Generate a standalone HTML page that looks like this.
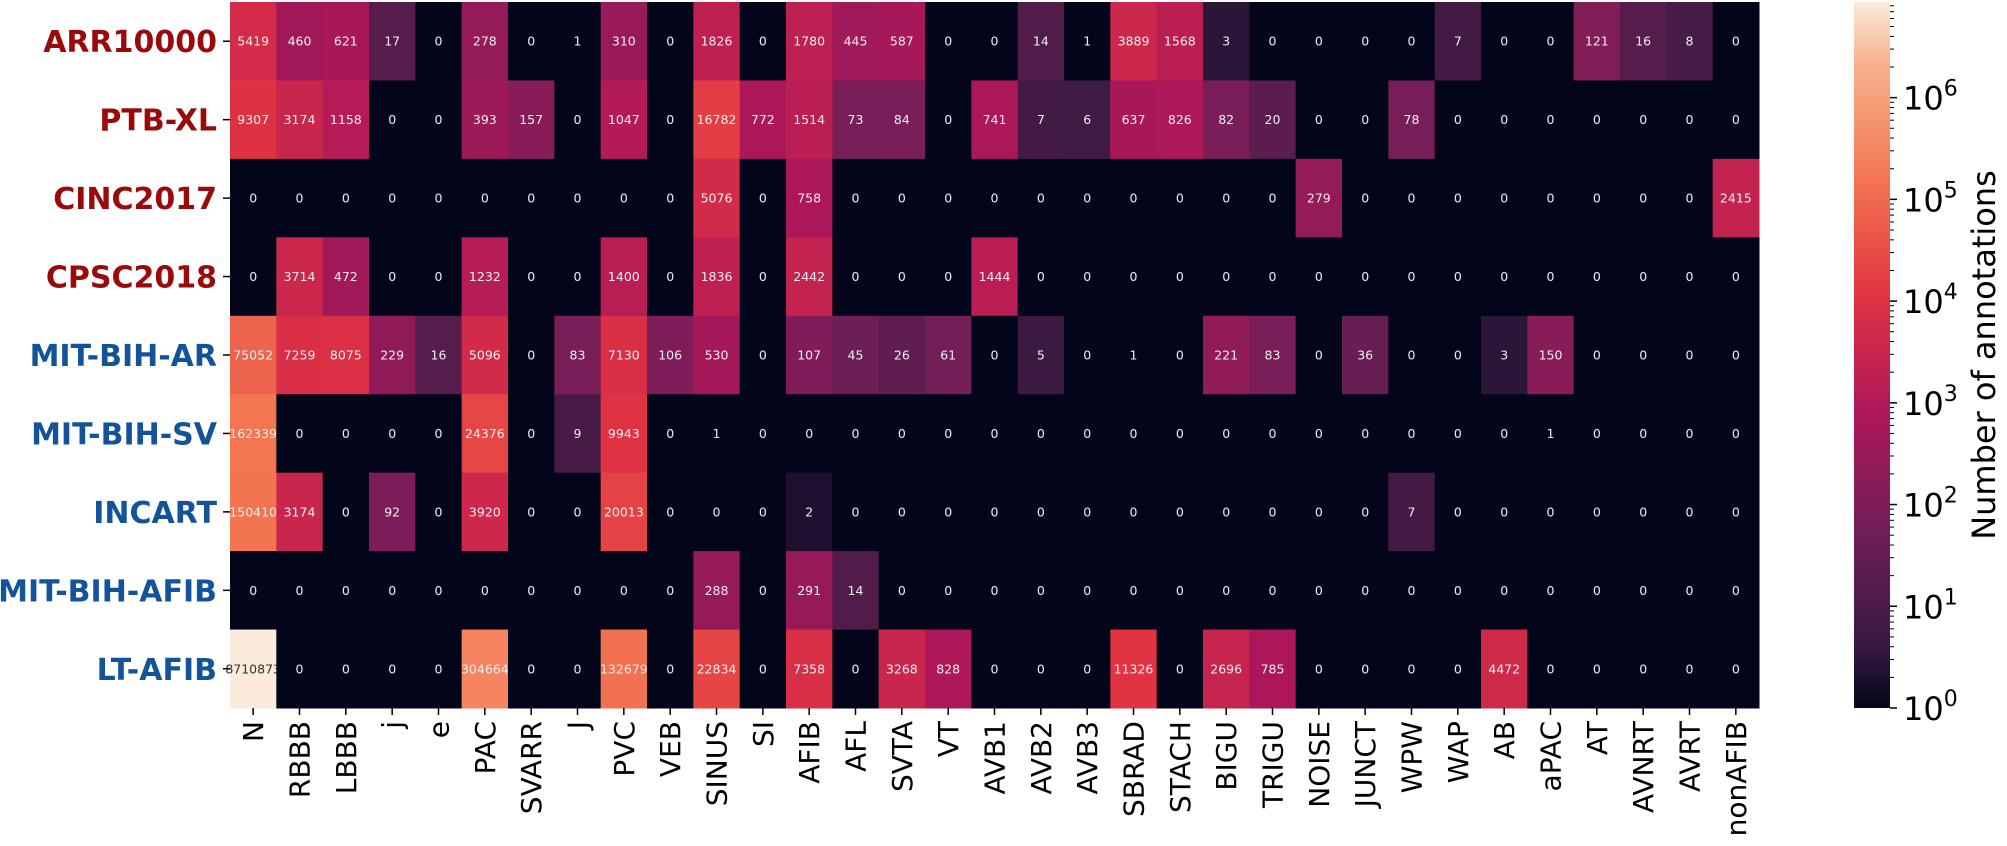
<!DOCTYPE html>
<html><head><meta charset="utf-8">
<style>
html,body{margin:0;padding:0;background:#fff;}
svg{display:block;font-family:"DejaVu Sans","Liberation Sans",sans-serif;}
</style></head>
<body>
<svg id="chart" width="2007" height="846" viewBox="0 0 2007 846" xmlns="http://www.w3.org/2000/svg">
<defs>
<linearGradient id="rocket" x1="0" y1="1" x2="0" y2="0">
<stop offset="0" stop-color="#03051a"/>
<stop offset="0.0833" stop-color="#35193e"/>
<stop offset="0.25" stop-color="#701f57"/>
<stop offset="0.4167" stop-color="#ad1759"/>
<stop offset="0.5833" stop-color="#e13342"/>
<stop offset="0.75" stop-color="#f37651"/>
<stop offset="0.9167" stop-color="#f6b48f"/>
<stop offset="1" stop-color="#faebdd"/>
</linearGradient>
</defs>
<g id="cells"></g>
<g id="ylabels"></g>
<g id="xlabels"></g>
<g id="cbar"></g>
</svg>
<script>
const categories = ["N","RBBB","LBBB","j","e","PAC","SVARR","J","PVC","VEB","SINUS","SI","AFIB","AFL","SVTA","VT","AVB1","AVB2","AVB3","SBRAD","STACH","BIGU","TRIGU","NOISE","JUNCT","WPW","WAP","AB","aPAC","AT","AVNRT","AVRT","nonAFIB"];
const datasets = ["ARR10000","PTB-XL","CINC2017","CPSC2018","MIT-BIH-AR","MIT-BIH-SV","INCART","MIT-BIH-AFIB","LT-AFIB"];
const datasetColors = ["#9b0a0a","#9b0a0a","#9b0a0a","#9b0a0a","#12539a","#12539a","#12539a","#12539a","#12539a"];
const rowARR10000 = [5419,460,621,17,0,278,0,1,310,0,1826,0,1780,445,587,0,0,14,1,3889,1568,3,0,0,0,0,7,0,0,121,16,8,0];
const rowPTBXL = [9307,3174,1158,0,0,393,157,0,1047,0,16782,772,1514,73,84,0,741,7,6,637,826,82,20,0,0,78,0,0,0,0,0,0,0];
const rowCINC2017 = [0,0,0,0,0,0,0,0,0,0,5076,0,758,0,0,0,0,0,0,0,0,0,0,279,0,0,0,0,0,0,0,0,2415];
const rowCPSC2018 = [0,3714,472,0,0,1232,0,0,1400,0,1836,0,2442,0,0,0,1444,0,0,0,0,0,0,0,0,0,0,0,0,0,0,0,0];
const rowMITBIHAR = [75052,7259,8075,229,16,5096,0,83,7130,106,530,0,107,45,26,61,0,5,0,1,0,221,83,0,36,0,0,3,150,0,0,0,0];
const rowMITBIHSV = [162339,0,0,0,0,24376,0,9,9943,0,1,0,0,0,0,0,0,0,0,0,0,0,0,0,0,0,0,0,1,0,0,0,0];
const rowINCART = [150410,3174,0,92,0,3920,0,0,20013,0,0,0,2,0,0,0,0,0,0,0,0,0,0,0,0,7,0,0,0,0,0,0,0];
const rowMITBIHAFIB = [0,0,0,0,0,0,0,0,0,0,288,0,291,14,0,0,0,0,0,0,0,0,0,0,0,0,0,0,0,0,0,0,0];
const rowLTAFIB = [8710873,0,0,0,0,304664,0,0,132679,0,22834,0,7358,0,3268,828,0,0,0,11326,0,2696,785,0,0,0,0,4472,0,0,0,0,0];
const values = [rowARR10000,rowPTBXL,rowCINC2017,rowCPSC2018,rowMITBIHAR,rowMITBIHSV,rowINCART,rowMITBIHAFIB,rowLTAFIB];
const cbarTicks = [0,1,2,3,4,5,6];

const NS="http://www.w3.org/2000/svg";
const L=230,R=1759,T=2,B=708;
const cw=(R-L)/categories.length, rh=(B-T)/datasets.length;
let vmax=1; values.forEach(r=>r.forEach(v=>{if(v>vmax)vmax=v;}));
const logMax=Math.log10(vmax);
function norm(v){return v<=1?0:Math.min(1,Math.log10(v)/logMax);}
function xPos(i){return L+i*cw;}
function yPos(j){return T+j*rh;}
const stops=[[0,[3,5,26]],[0.0833,[53,25,62]],[0.25,[112,31,87]],[0.4167,[173,23,89]],[0.5833,[225,51,66]],[0.75,[243,118,81]],[0.9167,[246,180,143]],[1,[250,235,221]]];
function cmap(t){for(let k=1;k<stops.length;k++){if(t<=stops[k][0]){const a=stops[k-1],b=stops[k];const f=(t-a[0])/(b[0]-a[0]);const c=a[1].map((x,i)=>Math.round(x+(b[1][i]-x)*f));return "rgb("+c.join(",")+")";}}return "rgb(250,235,221)";}
function mk(tag,attrs,parent){const e=document.createElementNS(NS,tag);for(const k in attrs)e.setAttribute(k,attrs[k]);parent.appendChild(e);return e;}

const gc=document.getElementById("cells");
values.forEach((row,j)=>{row.forEach((v,i)=>{
  const t=norm(v);
  const r=mk("rect",{x:xPos(i),y:yPos(j),width:cw+0.5,height:rh+0.5,fill:cmap(t)},gc);
  
  
  const tx=mk("text",{x:xPos(i)+cw/2,y:yPos(j)+rh/2+4.5,"text-anchor":"middle","font-size":"12.5",fill:t>0.9?"#333":"#eee"},gc);
  tx.textContent=v;
  
  
});});

const gy=document.getElementById("ylabels");
datasets.forEach((d,j)=>{
  const cy=yPos(j)+rh/2;
  const tk=mk("line",{x1:L-7,x2:L,y1:cy,y2:cy,stroke:"#000","stroke-width":1.5},gy);
  
  
  const t=mk("text",{x:L-13,y:cy+11,"text-anchor":"end","font-size":"30","font-weight":"bold",fill:datasetColors[j]},gy);
  t.textContent=d;
  
  
});

const gx=document.getElementById("xlabels");
categories.forEach((c,i)=>{
  const cx=xPos(i)+cw/2;
  const tk=mk("line",{x1:cx,x2:cx,y1:B,y2:B+7,stroke:"#000","stroke-width":1.5},gx);
  
  
  const t=mk("text",{x:0,y:0,"text-anchor":"end","font-size":"28",fill:"#000",transform:"translate("+(cx+10)+","+(B+13)+") rotate(-90)"},gx);
  t.textContent=c;
  
  
});

const gb=document.getElementById("cbar");
const CL=1854,CR=1890;
const bar=mk("rect",{x:CL,y:T,width:CR-CL,height:B-T,fill:"url(#rocket)"},gb);


function cy(lv){return B-(lv/logMax)*(B-T);}
cbarTicks.forEach(p=>{
  const y=cy(p);
  const tk=mk("line",{x1:CR,x2:CR+7,y1:y,y2:y,stroke:"#000","stroke-width":1.5},gb);
  
  
  const t=mk("text",{x:CR+13,y:y+12,"font-size":"32",fill:"#000"},gb);
  
  
  t.textContent="10";
  const s=mk("tspan",{dy:"-14","font-size":"22"},t);
  s.textContent=p;
  for(let m=2;m<=9;m++){const lv=p+Math.log10(m);if(lv>logMax)break;const yy=cy(lv);
    const mt=mk("line",{x1:CR,x2:CR+4,y1:yy,y2:yy,stroke:"#000","stroke-width":1},gb);
    
    }
});
const lab=mk("text",{x:0,y:0,"text-anchor":"middle","font-size":"32",fill:"#000",transform:"translate(1995,355) rotate(-90)"},gb);
lab.textContent="Number of annotations";


</script>
</body></html>
